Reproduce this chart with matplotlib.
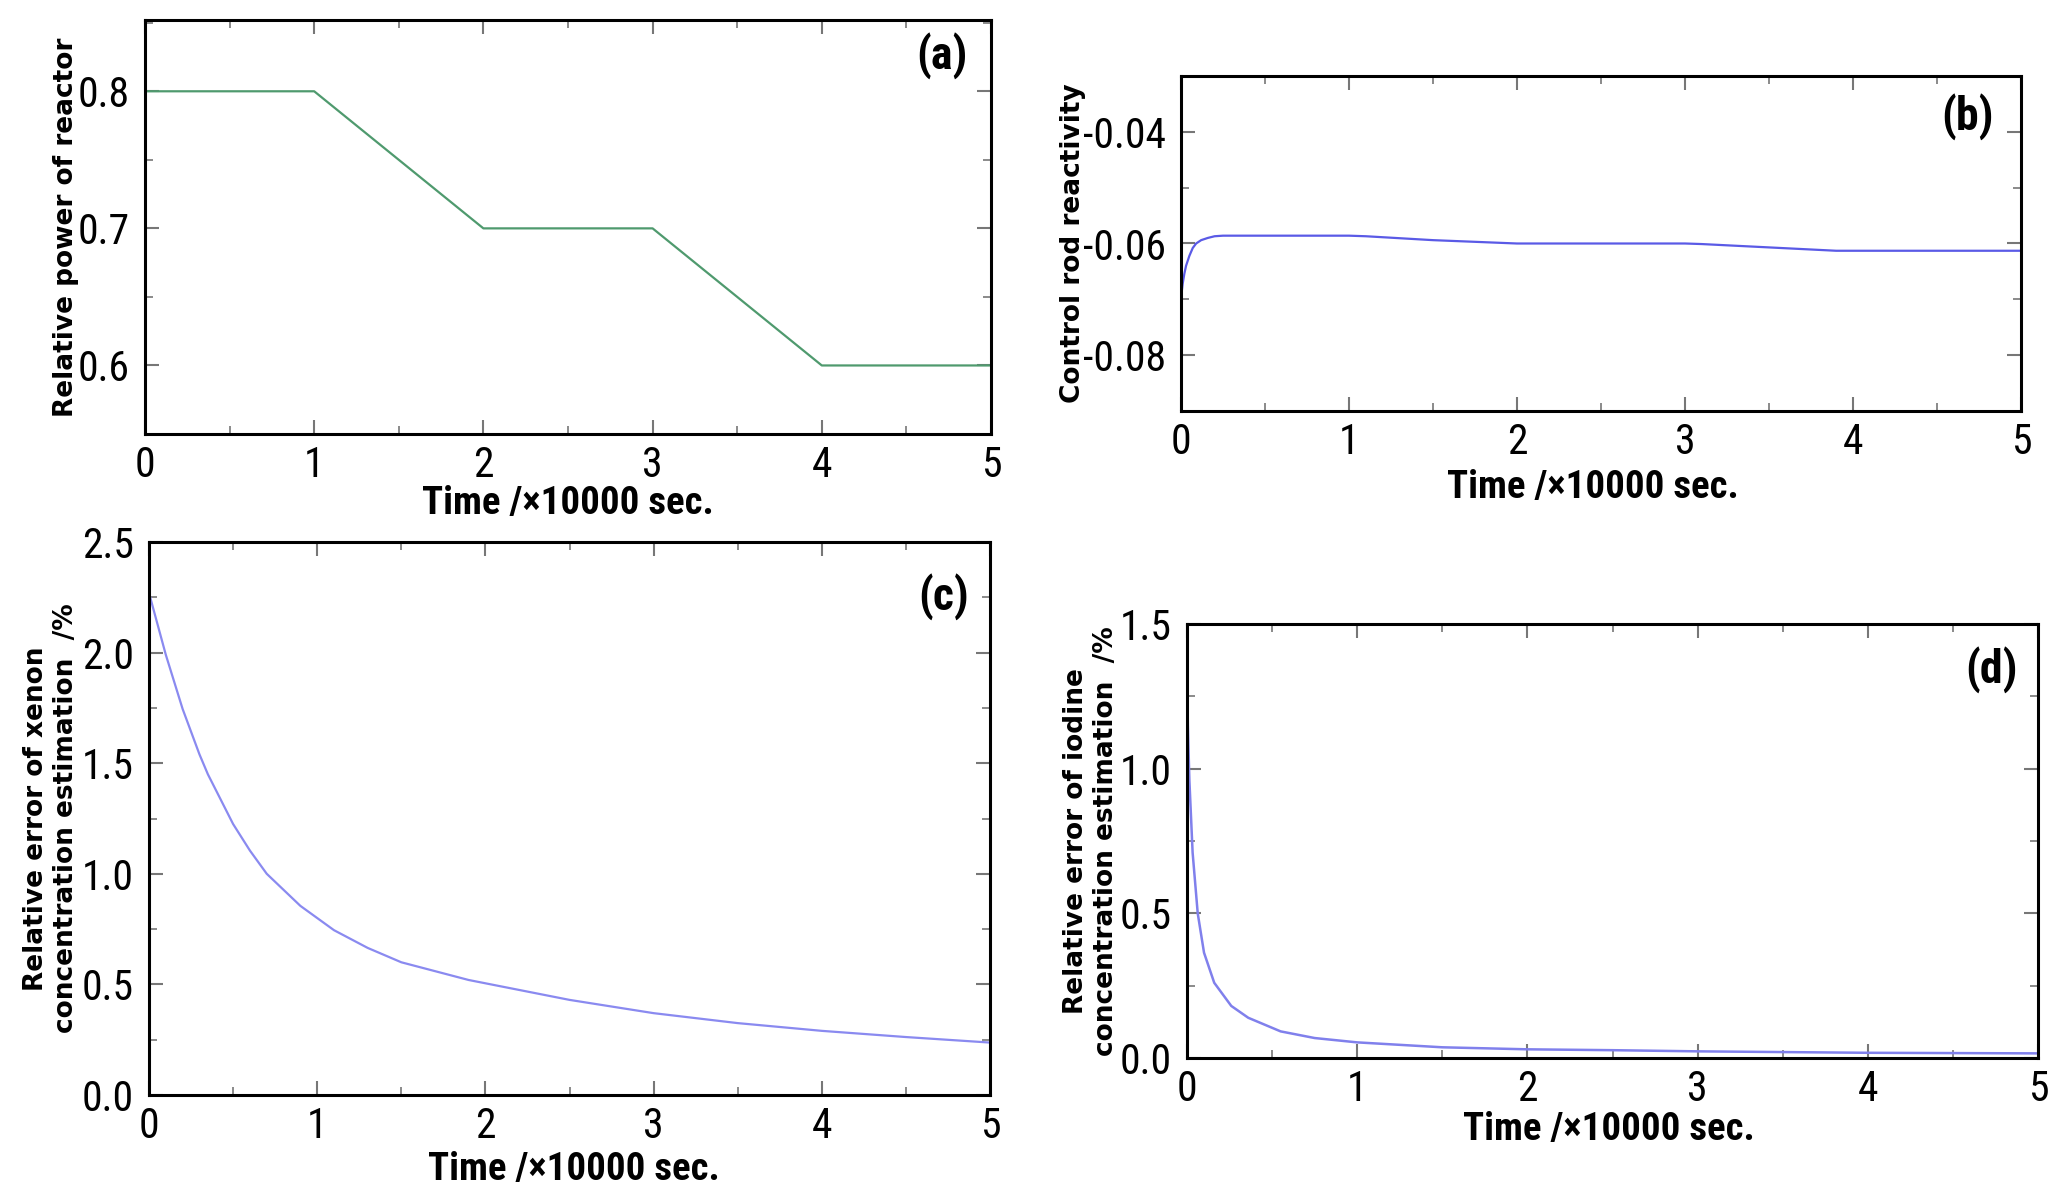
import numpy as np
import matplotlib.pyplot as plt
from matplotlib.ticker import MultipleLocator

# (a) relative power
t_a = [0, 1, 2, 3, 4, 5]
power = [0.8, 0.8, 0.7, 0.7, 0.6, 0.6]

# (b) control rod reactivity
t_b = [0, 0.01, 0.02, 0.03, 0.05, 0.07, 0.09, 0.12, 0.16, 0.2, 0.25, 1.0, 1.1, 1.5, 2.0, 3.0, 3.1, 3.5, 3.9, 5.0]
rho = [-0.0698, -0.0672, -0.0654, -0.0640, -0.0622, -0.0608, -0.0600, -0.0594, -0.0590, -0.0587, -0.0586,
       -0.0586, -0.0587, -0.0594, -0.0600, -0.0600, -0.0601, -0.0607, -0.0613, -0.0613]

# (c) xenon estimation error
t_c = [0, 0.05, 0.1, 0.2, 0.3, 0.35, 0.5, 0.6, 0.7, 0.9, 1.1, 1.3, 1.5, 1.7, 1.9, 2.2, 2.5, 3.0, 3.5,
       4.0, 4.5, 5.0]
err_xe = [2.27, 2.13, 1.99, 1.745, 1.54, 1.45, 1.225, 1.105, 1.0, 0.855, 0.745, 0.665, 0.60, 0.56, 0.52,
          0.475, 0.43, 0.37, 0.325, 0.29, 0.262, 0.237]

# (d) iodine estimation error
t_d = [0, 0.005, 0.014, 0.033, 0.063, 0.1, 0.16, 0.26, 0.36, 0.55, 0.75, 1.0, 1.5, 2.0, 2.5, 3.0, 4.0, 5.0]
err_i = [1.345, 1.15, 0.96, 0.71, 0.50, 0.364, 0.26, 0.18, 0.139, 0.092, 0.069, 0.054, 0.037, 0.030,
         0.027, 0.023, 0.018, 0.016]

xlab = 'Time /\u00d710000 sec.'
narrow = ['Liberation Sans Narrow', 'DejaVu Sans Condensed', 'Roboto Condensed', 'Liberation Sans']

W, H = 2064, 1197
fig = plt.figure(figsize=(W / 100, H / 100), dpi=100)


def box(l, r, t, b):
    return [l / W, 1 - b / H, (r - l) / W, (b - t) / H]


def style(ax, ylim, ymaj, ymin, ylabel, ylx, xly, xlx, tag, tagpos):
    ax.set_xlim(0, 5)
    ax.set_ylim(*ylim)
    ax.xaxis.set_major_locator(MultipleLocator(1))
    ax.xaxis.set_minor_locator(MultipleLocator(0.5))
    ax.yaxis.set_major_locator(MultipleLocator(ymaj))
    ax.yaxis.set_minor_locator(MultipleLocator(ymin))
    ax.tick_params(which='both', direction='in', top=True, right=True, color='#777777')
    ax.tick_params(which='major', length=10, width=1.5, labelsize=30)
    ax.tick_params(axis='y', which='major', pad=11)
    ax.tick_params(axis='x', which='major', pad=8)
    ax.tick_params(which='minor', length=6, width=1.2)
    for lbl in ax.get_xticklabels() + ax.get_yticklabels():
        lbl.set_family(narrow)
    for s in ax.spines.values():
        s.set_linewidth(2.2)
    ax.set_xlabel(xlab, family=narrow, fontsize=28, fontweight='bold', va='center')
    ax.xaxis.set_label_coords(xlx, xly)
    ax.set_ylabel(ylabel, fontsize=19, fontweight='bold')
    ax.yaxis.set_label_coords(ylx, 0.5)
    ax.text(tagpos[0], tagpos[1], tag, transform=ax.transAxes, ha='right', va='center',
            family=narrow, fontsize=33, fontweight='bold')


ax = fig.add_axes(box(145, 991, 20, 434))
ax.plot(t_a, power, color='#4f9a6e', lw=1.6)
style(ax, (0.55, 0.852), 0.1, 0.05, 'Relative power of reactor', -0.078, -0.168, 0.5, '(a)', (0.972, 0.915))
ax.yaxis.set_major_formatter(plt.FormatStrFormatter('%.1f'))

ax = fig.add_axes(box(1181, 2021, 76, 411))
ax.plot(t_b, rho, color='#5a5ae6', lw=1.6)
style(ax, (-0.09, -0.03), 0.02, 0.01, 'Control rod reactivity', -0.113, -0.227, 0.49, '(b)', (0.968, 0.88))
ax.yaxis.set_major_formatter(plt.FormatStrFormatter('%.2f'))

ax = fig.add_axes(box(149, 990, 542, 1095))
ax.plot(t_c, err_xe, color='#8a8af0', lw=1.6)
style(ax, (0, 2.5), 0.5, 0.25, 'Relative error of xenon\nconcentration estimation  /%', -0.083, -0.134, 0.505,
      '(c)', (0.975, 0.902))
ax.yaxis.set_major_formatter(plt.FormatStrFormatter('%.1f'))

ax = fig.add_axes(box(1187, 2038, 624, 1058))
ax.plot(t_d, err_i, color='#8080ec', lw=1.8)
style(ax, (0, 1.5), 0.5, 0.25, 'Relative error of iodine\nconcentration estimation  /%', -0.080, -0.164, 0.496,
      '(d)', (0.976, 0.896))
ax.yaxis.set_major_formatter(plt.FormatStrFormatter('%.1f'))

fig.savefig('out.png', dpi=100)
